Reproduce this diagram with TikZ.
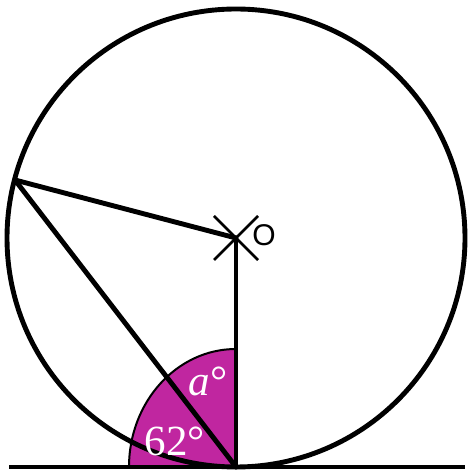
\documentclass[tikz,border=0pt]{standalone}
\usepackage{fontspec}
\usetikzlibrary{calc}
\setmainfont{Liberation Serif}
\setsansfont{Liberation Sans}
\definecolor{sectormag}{RGB}{192,38,160}
\tikzset{
  thick line/.style={line width=4.9pt, line cap=round, line join=round},
  cross line/.style={line width=2.6pt},
  angle label/.style={text=white, inner sep=0pt, font=\fontsize{43}{43}\selectfont},
  point label/.style={inner sep=0pt, font=\sffamily\fontsize{30}{30}\selectfont}
}
\begin{document}
\begin{tikzpicture}[x=1pt,y=1pt]
\useasboundingbox (0,0) rectangle (474,476);
\coordinate (O) at (236,238);
\coordinate (P) at (15,296);
\coordinate (B) at (236,9);
\coordinate (L) at (9,9);
\coordinate (R) at (465,9);
% sector
\fill[sectormag] (B) -- ++(-107,0) arc[start angle=180, end angle=90, x radius=107, y radius=118] -- cycle;
\draw[line width=2pt] ($(B)+(-107,0)$) arc[start angle=180, end angle=90, x radius=107, y radius=118];
% circle
\draw[thick line] (O) circle[radius=229];
% lines
\draw[thick line, line cap=butt] (L) -- (R);
\draw[thick line] (B) -- (O);
\draw[thick line] (P) -- (O);
\draw[thick line] (P) -- (B);
% centre cross
\draw[cross line] ($(O)+(-22,22)$) -- ($(O)+(22,-22)$);
\draw[cross line] ($(O)+(-22,-22)$) -- ($(O)+(22,22)$);
\node[point label] (olabel) at (264,241) {O};
% labels
\node[angle label] (alabel) at (208,95) {\textit{a}°};
\node[angle label] (sixtytwo) at (175,35) {62°};
\end{tikzpicture}
\end{document}
